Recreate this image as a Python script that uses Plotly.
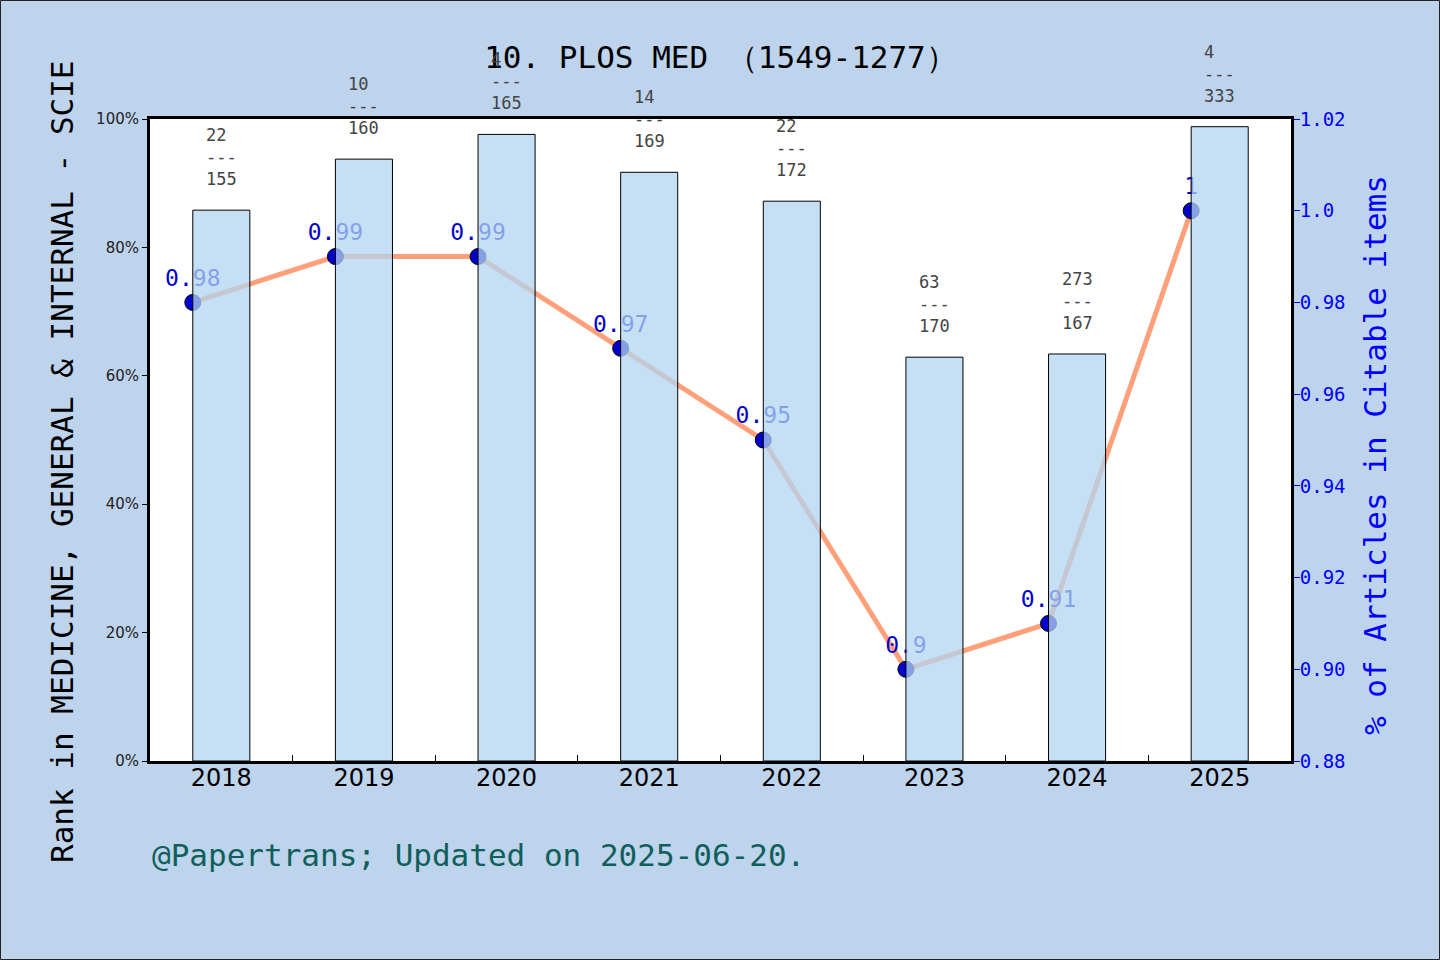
import plotly.graph_objects as go

# ---- data ----
years = ["2018", "2019", "2020", "2021", "2022", "2023", "2024", "2025"]
rank_num = [22, 10, 4, 14, 22, 63, 273, 4]
rank_den = [155, 160, 165, 169, 172, 170, 167, 333]
rank_pct = [0.858, 0.9375, 0.976, 0.917, 0.872, 0.629, 0.634, 0.988]
citable = [0.98, 0.99, 0.99, 0.97, 0.95, 0.90, 0.91, 1.0]
right_ticks = [0.88, 0.90, 0.92, 0.94, 0.96, 0.98, 1.00, 1.02]
right_ticktext = ["0.88", "0.90", "0.92", "0.94", "0.96", "0.98", "1.0", "1.02"]
left_ticks = [0, 0.2, 0.4, 0.6, 0.8, 1.0]

idx = list(range(len(years)))
line_x = [i - 0.2 for i in idx]
MONO = "DejaVu Sans Mono, Liberation Mono, monospace"

fig = go.Figure()

# line (primary y axis, right side) - drawn beneath bars
fig.add_trace(go.Scatter(
    x=line_x, y=citable, yaxis="y", mode="lines+markers+text",
    line=dict(color="#FFA07A", width=5),
    marker=dict(size=16, color="#0000CD", line=dict(color="black", width=1)),
    text=[f"{v:g}" for v in citable], textposition="top center",
    textfont=dict(family=MONO, size=23, color="#0000CD"),
    cliponaxis=False, showlegend=False, hoverinfo="skip"))

# bars (overlaying axis on the left), semi-transparent, drawn on top
fig.add_trace(go.Bar(
    x=idx, y=rank_pct, yaxis="y2", width=0.4,
    marker=dict(color="rgba(178,214,242,0.75)", line=dict(color="black", width=1)),
    showlegend=False, hoverinfo="skip"))

# fraction annotations above bars
for i, (n, d, p) in enumerate(zip(rank_num, rank_den, rank_pct)):
    fig.add_annotation(
        x=i, y=p, xref="x", yref="y2", text=f"{n}<br>---<br>{d}",
        showarrow=False, align="left", xanchor="center", yanchor="middle",
        yshift=53, font=dict(family=MONO, size=17, color="#444444"))

fig.update_layout(
    width=1440, height=960,
    margin=dict(l=150, r=149, t=119, b=199),
    paper_bgcolor="#BED3EC", plot_bgcolor="white",
    title=dict(text="10. PLOS MED （1549-1277）", x=0.5, xref="paper",
               y=1 - 57 / 960, yanchor="middle", xanchor="center",
               font=dict(family=MONO, size=31, color="black")),
    xaxis=dict(range=[-0.5, 7.5], tickmode="array", tickvals=idx, ticktext=years,
               ticks="", showline=True, linecolor="black", linewidth=3, mirror=True,
               showgrid=False, zeroline=False, ticklabelstandoff=-7,
               tickfont=dict(family="DejaVu Sans, sans-serif", size=24, color="black"),
               minor=dict(tickmode="array", tickvals=[i + 0.5 for i in idx[:-1]],
                          ticks="inside", ticklen=6, tickcolor="black", tickwidth=1,
                          showgrid=False)),
    yaxis=dict(side="right", range=[0.88, 1.02], tickmode="array",
               tickvals=right_ticks, ticktext=right_ticktext,
               ticks="outside", ticklen=6, tickcolor="blue", tickwidth=1,
               showline=True, linecolor="black", linewidth=3, mirror=True,
               showgrid=False, zeroline=False, ticklabelstandoff=-4,
               tickfont=dict(family=MONO, size=19, color="blue")),
    yaxis2=dict(overlaying="y", side="left", range=[0, 1], tickmode="array",
                tickvals=left_ticks, tickformat=".0%",
                ticks="outside", ticklen=7, tickcolor="black", tickwidth=1,
                showline=False, showgrid=False, zeroline=False,
                tickfont=dict(family="DejaVu Sans, sans-serif", size=15, color="#222222")),
)

# axis titles and footer
fig.add_annotation(text="Rank in MEDICINE, GENERAL & INTERNAL - SCIE",
                   xref="paper", yref="paper", x=(62 - 150) / 1141, y=1 - (462 - 119) / 642,
                   textangle=-90, showarrow=False, xanchor="center", yanchor="middle",
                   font=dict(family=MONO, size=31, color="black"))
fig.add_annotation(text="% of Articles in Citable items",
                   xref="paper", yref="paper", x=(1375 - 150) / 1141, y=1 - (455 - 119) / 642,
                   textangle=-90, showarrow=False, xanchor="center", yanchor="middle",
                   font=dict(family=MONO, size=31, color="blue"))
fig.add_annotation(text="@Papertrans; Updated on 2025-06-20.",
                   xref="paper", yref="paper", x=0, y=1 - (855 - 119) / 642,
                   showarrow=False, xanchor="left", yanchor="middle",
                   font=dict(family=MONO, size=31, color="#0F5F5A"))

# figure border
fig.add_shape(type="rect", xref="paper", yref="paper",
              x0=(0.5 - 150) / 1141, x1=(1439.5 - 150) / 1141,
              y0=1 - (959.5 - 119) / 642, y1=1 - (0.5 - 119) / 642,
              line=dict(color="#222222", width=1), fillcolor="rgba(0,0,0,0)", layer="below")

fig.write_html("out.html")
